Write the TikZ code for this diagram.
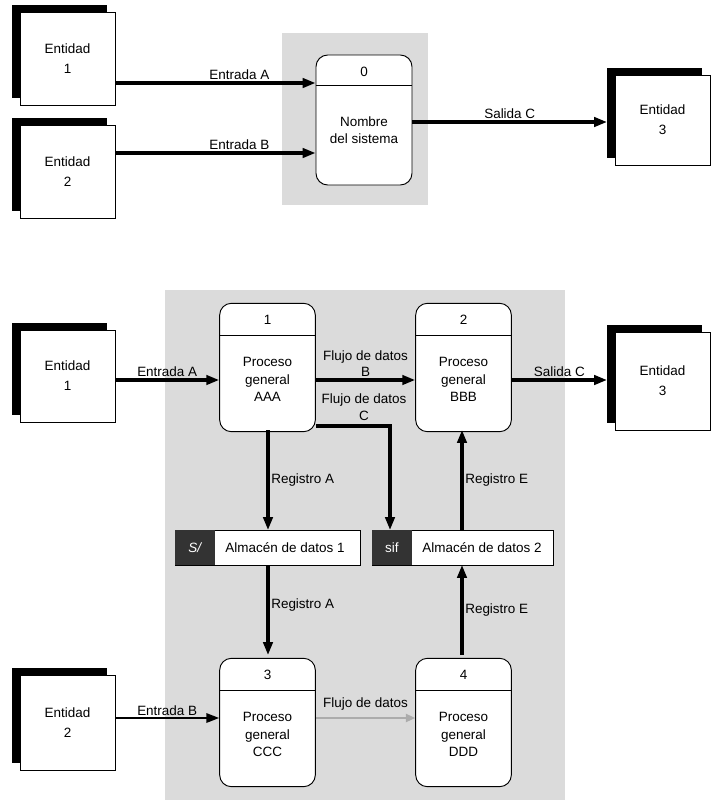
\documentclass[tikz,border=0pt]{standalone}
\usepackage{fontspec}
\setmainfont{Liberation Sans}
\usetikzlibrary{arrows.meta}
\begin{document}
\begin{tikzpicture}[x=0.03cm,y=-0.03cm,font=\fontsize{11.5}{17}\selectfont,
  ent/.style={draw,fill=white,minimum width=2.85cm,minimum height=2.75cm,align=center,inner sep=0pt},
  proc/.style={draw,fill=white,line width=0.8pt,rounded corners=10pt,minimum width=2.88cm,align=center,inner sep=0pt},
  flow/.style={line width=2.6pt,-{Triangle[length=11pt,width=8pt]}},
  bg/.style={fill=gray!28,draw=none},
  lab/.style={inner sep=1.5pt}]
\useasboundingbox (0,0) rectangle (718,807);
\fill[bg] (282,33) rectangle (428,205);
\fill[bg] (165,290) rectangle (565,800);
\foreach \x/\y/\w/\h in {20/12/95/93, 20/125/95/93, 615/75/95/90, 20/330/95/92, 615/332/95/98, 20/675/95/95}
  \fill (\x-8,\y-7) rectangle (\x+\w-8,\y+\h-7);
\node[ent,minimum height=2.79cm] (e1) at (67.5,58.5) {Entidad\\1};
\node[ent,minimum height=2.79cm] (e2) at (67.5,171.5) {Entidad\\2};
\node[ent,minimum height=2.7cm] (e3) at (662.5,120) {Entidad\\3};
\node[ent,minimum height=2.76cm] (b1) at (67.5,376) {Entidad\\1};
\node[ent,minimum height=2.94cm] (b3) at (662.5,381) {Entidad\\3};
\node[ent,minimum height=2.85cm] (b2) at (67.5,722.5) {Entidad\\2};
\node[proc,minimum height=3.9cm] (p0) at (364,120) {};
\draw (p0.west |- 0,85) -- (p0.east |- 0,85);
\node at (364,72) {0};
\node[align=center,font=\fontsize{11.5}{15}\selectfont] at (364,130) {Nombre\\del sistema};
\foreach \n/\x/\y/\t/\b in {p1/267.5/367.5/1/AAA, p2/463.5/367.5/2/BBB, p3/267.5/722.5/3/CCC, p4/463.5/722.5/4/DDD}{
  \node[proc,minimum width=2.87cm,minimum height=3.85cm] (\n) at (\x,\y) {};
  \draw (\n.west |- 0,\y-32) -- (\n.east |- 0,\y-32);
  \node at (\x,\y-48) {\t};
  \node[align=center,font=\fontsize{11.5}{15}\selectfont] at (\x,\y+12) {Proceso\\general\\\b};
}
\node[draw,fill=white,minimum width=5.55cm,minimum height=1.05cm,inner sep=0pt] (s1) at (267.5,547.5) {};
\fill[black!80] (s1.north west) rectangle ([xshift=1.2cm]s1.south west);
\node[white,font=\fontsize{11.5}{14}\selectfont\itshape] at ([xshift=0.6cm]s1.west) {S/};
\node at (285,548) {Almacén de datos 1};
\node[draw,fill=white,minimum width=5.43cm,minimum height=1.05cm,inner sep=0pt] (s2) at (462.5,547.5) {};
\fill[black!80] (s2.north west) rectangle ([xshift=1.2cm]s2.south west);
\node[white] at ([xshift=0.6cm]s2.west) {sif};
\node at (482,548) {Almacén de datos 2};
\draw[flow] (e1.east |- 0,83) -- node[lab,above,pos=0.62]{Entrada A} (p0.west |- 0,83);
\draw[flow] (e2.east |- 0,153) -- node[lab,above,pos=0.62]{Entrada B} (p0.west |- 0,153);
\draw[flow] (p0.east |- 0,122) -- node[lab,above,pos=0.5]{Salida C} (607,122);
\draw[flow] (b1.east |- 0,380) -- node[lab,above]{Entrada A} (p1.west |- 0,380);
\draw[flow] (p1.east |- 0,380) -- node[lab,above,align=center,font=\fontsize{11.5}{14}\selectfont]{Flujo de datos\\B} (p2.west |- 0,380);
\draw[flow] (p1.east |- 0,426) -- (390,426) -- (390,530);
\node[lab,align=center,font=\fontsize{11.5}{14}\selectfont] (fc) at (364,407) {Flujo de datos\\C};
\draw[flow] (268,430) -- node[lab,right,pos=0.5]{Registro A} (268,530);
\draw[flow] (268,565) -- node[lab,right,pos=0.45]{Registro A} (268,655);
\draw[flow] (462,655) -- node[lab,right,pos=0.5]{Registro E} (462,565);
\draw[flow] (462,530) -- node[lab,right,pos=0.5]{Registro E} (462,430);
\draw[flow] (p2.east |- 0,380) -- node[lab,above]{Salida C} (607,380);
\draw[flow,line width=1.8pt] (b2.east |- 0,718) -- node[lab,above]{Entrada B} (p3.west |- 0,718);
\draw[line width=1.5pt,gray!65,-{Triangle[length=8pt,width=7pt]}] (p3.east |- 0,718) -- node[lab,above,black,yshift=4pt]{Flujo de datos} (p4.west |- 0,718);
\end{tikzpicture}
\end{document}
